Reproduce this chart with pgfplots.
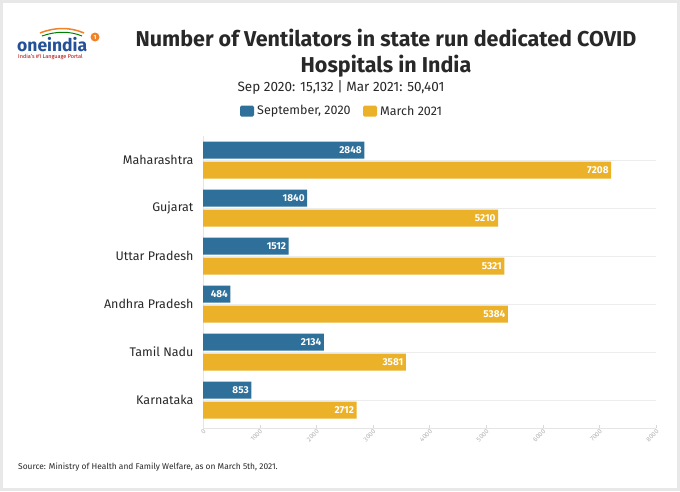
\documentclass[border=0pt]{standalone}
\usepackage{pgfplots}
\pgfplotsset{compat=1.18}
\usepackage{fontspec}
\setmainfont{Fira Sans}
\definecolor{barblue}{RGB}{46,112,154}
\definecolor{bargold}{RGB}{235,177,40}
\definecolor{titlecol}{RGB}{40,40,40}
\definecolor{framecol}{RGB}{232,232,232}
\definecolor{logoblue}{RGB}{35,80,150}
\definecolor{logoorange}{RGB}{240,130,40}
\begin{document}
\begin{tikzpicture}[x=1pt,y=1pt]
\fill[white] (0,0) rectangle (680,-491);
\draw[framecol,line width=3pt] (1.5,-1.5) rectangle (678.5,-489.5);
% logo
\node[anchor=west,inner sep=0,font=\fontsize{17.5}{17}\selectfont\bfseries,text=logoblue] at (17,-45) {oneindia};
\draw[logoorange,line width=1.5pt] (40,-33) .. controls (55,-27) and (70,-27) .. (84,-33);
\draw[green!50!black,line width=1pt] (42,-36) .. controls (56,-31) and (70,-31) .. (82,-36);
\fill[logoorange] (95,-37) circle (4.5);
\node[text=white,font=\fontsize{6}{6}\selectfont\bfseries,inner sep=0] at (95,-37) {1};
\node[anchor=west,inner sep=0,font=\fontsize{5.5}{6}\selectfont,text=red!70!black] at (18,-57) {India's \#1 Language Portal};
% titles
\node[font=\fontsize{21.5}{26}\selectfont\bfseries,text=titlecol,align=center] at (386,-53) {Number of Ventilators in state run dedicated COVID\\Hospitals in India};
\node[font=\fontsize{13.5}{14}\selectfont,text=titlecol] at (341,-87) {Sep 2020: 15,132 | Mar 2021: 50,401};
% legend
\fill[barblue,rounded corners=1.5pt] (240,-105.5) rectangle (254,-116.5);
\node[anchor=west,inner sep=0,font=\fontsize{12.5}{13}\selectfont,text=titlecol] at (257,-111) {September, 2020};
\fill[bargold,rounded corners=1.5pt] (363,-105.5) rectangle (377,-116.5);
\node[anchor=west,inner sep=0,font=\fontsize{12.5}{13}\selectfont,text=titlecol] at (380,-111) {March 2021};
% source
\node[anchor=west,inner sep=0,font=\fontsize{8.4}{9}\selectfont,text=titlecol] at (18,-467) {Source: Ministry of Health and Family Welfare, as on March 5th, 2021.};
\begin{axis}[
  at={(203pt,-428pt)}, anchor=south west,
  scale only axis, width=453pt, height=292pt,
  xbar, bar width=17pt,
  xmin=0, xmax=8000, ymin=-0.58, ymax=5.5,
  xtick={0,1000,...,8000},
  ytick={0,1,2,3,4,5},
  yticklabels={Karnataka,Tamil Nadu,Andhra Pradesh,Uttar Pradesh,Gujarat,Maharashtra},
  axis x line*=bottom, axis y line*=left,
  x axis line style={draw=gray!20},
  y axis line style={draw=gray!20},
  ymajorgrids, grid style={draw=gray!15},
  major tick length=3pt,
  xtick style={draw=gray!30},
  ytick style={draw=none},
  scaled x ticks=false,
  /pgf/number format/assume math mode=true,
  /pgf/number format/1000 sep={},
  xticklabel style={font=\fontsize{6.5}{6.5}\selectfont,text=gray!60,rotate=45,anchor=north east,inner sep=0.5pt},
  yticklabel style={font=\fontsize{12.5}{13}\selectfont,text=titlecol,xshift=-3pt},
  nodes near coords,
  every node near coord/.append style={anchor=east,text=white,font=\fontsize{10}{10}\selectfont\bfseries,xshift=1pt},
  nodes near coords style={/pgf/number format/1000 sep={}},
  clip=false,
]
\addplot[fill=barblue,draw=none,bar shift=10pt] coordinates {(853,0) (2134,1) (484,2) (1512,3) (1840,4) (2848,5)};
\addplot[fill=bargold,draw=none,bar shift=-10pt] coordinates {(2712,0) (3581,1) (5384,2) (5321,3) (5210,4) (7208,5)};
\end{axis}
\end{tikzpicture}
\end{document}
